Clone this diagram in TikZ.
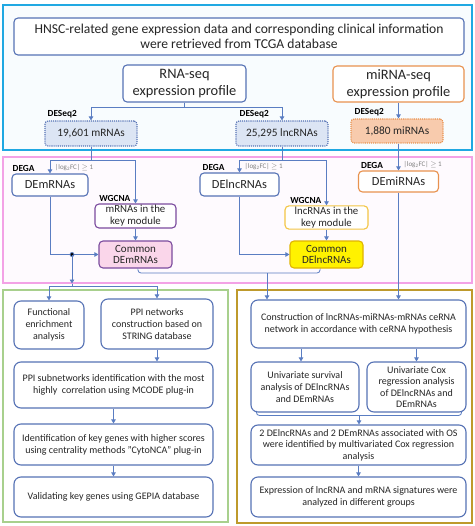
\documentclass[tikz,border=0pt]{standalone}
\usepackage{fontspec}
\setmainfont{Carlito}
\usetikzlibrary{arrows.meta,calc}
\definecolor{cblue}{HTML}{5672B5}
\definecolor{cline}{HTML}{5A7DC2}
\definecolor{corange}{HTML}{E8924F}
\definecolor{cpurple}{HTML}{7B4B9E}
\definecolor{cyel}{HTML}{F3C544}
\definecolor{cyelfill}{HTML}{FFF200}
\definecolor{cyeldark}{HTML}{E0B400}
\definecolor{cpinkfill}{HTML}{FAD6EA}
\definecolor{cbluefill}{HTML}{DCE5F4}
\definecolor{corangefill}{HTML}{F8CBAD}
\definecolor{pcyan}{HTML}{1FA8E2}
\definecolor{ppink}{HTML}{F3A2E6}
\definecolor{pgreen}{HTML}{A8D08D}
\definecolor{pbrown}{HTML}{BE9A2C}
\definecolor{txt}{HTML}{262626}
\definecolor{lgray}{HTML}{808080}
\begin{document}
\begin{tikzpicture}[x=1pt,y=-1pt,
  panel/.style={line width=2pt},
  box/.style={draw=cblue, line width=1.1pt, rounded corners=4pt, fill=white, align=center, inner sep=1pt, text=txt},
  gbox/.style={box, rounded corners=7pt, font=\fontsize{10}{12.2}\selectfont},
  cnt/.style={box, densely dotted, rounded corners=3pt, font=\fontsize{11.3}{12}\selectfont},
  de/.style={box, font=\fontsize{12.4}{14}\selectfont},
  km/.style={box, draw=cpurple, font=\fontsize{10.8}{12}\selectfont},
  bold/.style={font=\bfseries\fontsize{9.3}{10}\selectfont, inner sep=0pt, text=black},
  logl/.style={font=\fontsize{7}{7.5}\selectfont, inner sep=0pt, text=lgray},
  arr/.style={draw=cline, line width=0.8pt, -{Triangle[width=4.5pt,length=4pt]}},
  cline/.style={draw=cline, line width=0.8pt}]
\useasboundingbox (0,0) rectangle (474,526);
% panels
\draw[panel, draw=pcyan, fill=pcyan!3] (3,5) rectangle (472,150);
\draw[panel, draw=ppink, fill=ppink!5] (3,157) rectangle (472,283);
\draw[panel, draw=pgreen, fill=white] (3,290) rectangle (228,522);
\draw[panel, draw=pbrown, fill=white] (237,290) rectangle (472,523);
% top
\node[box, minimum width=450, minimum height=37, font=\fontsize{13.6}{15}\selectfont] (title) at (239,36.5)
  {HNSC-related gene expression data and corresponding clinical information\\were retrieved from TCGA database};
\node[box, minimum width=123, minimum height=37, font=\fontsize{14.4}{16.5}\selectfont] (rnaseq) at (184.5,83.5) {RNA-seq\\expression profile};
\node[box, draw=corange, minimum width=131, minimum height=36, font=\fontsize{14.4}{16.5}\selectfont] (mirnaseq) at (398.5,84) {miRNA-seq\\expression profile};
\node[cnt, fill=cbluefill, minimum width=92, minimum height=25] (mrna) at (91,133.5) {19,601 mRNAs};
\node[cnt, fill=cbluefill, minimum width=92, minimum height=25] (lnc) at (282,133.5) {25,295 lncRNAs};
\node[cnt, draw=corange, fill=corangefill, minimum width=92, minimum height=24] (mir) at (397,131) {1,880 miRNAs};
\node[bold, anchor=south west] (ds1) at ($(mrna.north west)+(3,-2)$) {DESeq2};
\node[bold, anchor=south west] (ds2) at ($(lnc.north west)+(4,-2)$) {DESeq2};
\node[bold, anchor=south west] (ds3) at ($(mir.north west)+(4,-2)$) {DESeq2};
% middle
\node[de, minimum width=76, minimum height=22] (dem) at (50,185) {DEmRNAs};
\node[de, minimum width=79, minimum height=23] (del) at (239.5,184.5) {DElncRNAs};
\node[de, draw=corange, minimum width=80, minimum height=21] (demi) at (398.5,181.5) {DEmiRNAs};
\node[km, minimum width=81, minimum height=24] (kmm) at (135.5,216) {mRNAs in the\\key module};
\node[km, draw=cyel, minimum width=83, minimum height=23] (kml) at (326.5,217.5) {lncRNAs in the\\key module};
\node[km, fill=cpinkfill, minimum width=73, minimum height=27, font=\fontsize{11}{11.8}\selectfont] (cmm) at (135.5,254.5) {Common\\DEmRNAs};
\node[km, draw=cyeldark, fill=cyelfill, minimum width=73, minimum height=27, font=\fontsize{11}{11.8}\selectfont] (cml) at (326.5,254.5) {Common\\DElncRNAs};
\node[bold, anchor=south west] (dg1) at ($(dem.north west)+(1,-2)$) {DEGA};
\node[bold, anchor=south west] (dg2) at ($(del.north west)+(3,-2)$) {DEGA};
\node[bold, anchor=south west] (dg3) at ($(demi.north west)+(3,-2)$) {DEGA};
\node[logl, anchor=south west] (lg1) at ($(dem.north)+(5,-2.5)$) {|log\textsubscript{2}FC| \(\geq\) 1};
\node[logl, anchor=south west] (lg2) at ($(del.north)+(5,-2.5)$) {|log\textsubscript{2}FC| \(\geq\) 1};
\node[logl, anchor=south west] (lg3) at ($(demi.north)+(5,-2.5)$) {|log\textsubscript{2}FC| \(\geq\) 1};
\node[bold, anchor=south east] (wg1) at ($(kmm.north)+(-5,-2)$) {WGCNA};
\node[bold, anchor=south east] (wg2) at ($(kml.north)+(-5,-2)$) {WGCNA};
% green panel
\node[gbox, minimum width=70, minimum height=48] (func) at (49,325) {Functional\\enrichment\\analysis};
\node[gbox, minimum width=112, minimum height=50] (ppi) at (157,324) {PPI networks\\construction based on\\STRING database};
\node[gbox, minimum width=199, minimum height=46] (sub) at (113.5,385) {PPI subnetworks identification with the most\\highly~ correlation using MCODE plug-in};
\node[gbox, minimum width=199, minimum height=41] (keyg) at (113.5,444.5) {Identification of key genes with higher scores\\using centrality methods "CytoNCA" plug-in};
\node[gbox, minimum width=199, minimum height=40] (valid) at (113.5,497) {Validating key genes using GEPIA database};
% brown panel
\node[gbox, minimum width=215, minimum height=48] (cons) at (358.5,324) {Construction of lncRNAs-miRNAs-mRNAs ceRNA\\network in accordance with ceRNA hypothesis};
\node[gbox, minimum width=108, minimum height=50] (surv) at (305,387) {Univariate survival\\analysis of DElncRNAs\\and DEmRNAs};
\node[gbox, minimum width=99, minimum height=50, font=\fontsize{10}{11.5}\selectfont] (cox) at (416.5,387) {Univariate Cox\\regression analysis\\of DElncRNAs and\\DEmRNAs};
\node[gbox, minimum width=215, minimum height=40, font=\fontsize{10}{11.5}\selectfont] (two) at (358.5,445) {2 DElncRNAs and 2 DEmRNAs associated with OS\\were identified by multivariated Cox regression\\analysis};
\node[gbox, minimum width=215, minimum height=40] (expr) at (358.5,497) {Expression of lncRNA and mRNA signatures were\\analyzed in different groups};
% connectors top
\draw[arr] (rnaseq.south) -- ++(0,5) -| (mrna.north);
\draw[arr] (rnaseq.south) -- ++(0,5) -| (lnc.north);
\draw[arr] (mirnaseq.south) -- (mirnaseq.south |- mir.north);
% middle connectors
\draw[arr] (mrna.south) -- ++(0,14) -| (dem.north);
\draw[arr] (mrna.south) -- ++(0,14) -| (kmm.north);
\draw[arr] (lnc.south) -- ++(0,14) -| (del.north);
\draw[arr] (lnc.south) -- ++(0,14) -| (kml.north);
\draw[arr] (mir.south -| demi.north) -- (demi.north);
\draw[arr] (kmm.south) -- (cmm.north);
\draw[arr] (kml.south) -- (cml.north);
\draw[arr] (dem.south) |- (cmm.west);
\draw[arr] (del.south) |- (cml.west);
\coordinate (junc) at (72,254.5);
\coordinate (jend) at (72,283.5);
\coordinate (bar) at (72,286);
\fill[cline] (junc) circle (2);
\draw[arr] (junc) -- (jend);
\draw[cline] (jend) -- (bar);
\draw[arr] (bar) -| (func.north);
\draw[arr] (bar) -| (ppi.north);
\coordinate (brk1) at (267,273);
\draw[cline, rounded corners=3pt] ($(cmm.south)+(2.5,2)$) |- (brk1) -| ($(cml.south)+(-6.5,2)$);
\draw[arr] (brk1) -- (brk1 |- cons.north);
\draw[arr] (demi.south) -- (demi.south |- cons.north);
% green connectors
\draw[arr] (ppi.south) -- (ppi.south |- sub.north);
\draw[arr] (sub.south) -- (keyg.north);
\draw[arr] (keyg.south) -- (valid.north);
% brown connectors
\draw[arr] ($(surv.north |- cons.south)+(-4,0)$) -- ($(surv.north)+(-4,0)$);
\draw[arr] (cox.north |- cons.south) -- (cox.north);
\coordinate (brk2) at (359,415.5);
\draw[cline, rounded corners=3pt] ($(surv.south west)+(6,0)$) |- (brk2) -| ($(cox.south east)+(-5,0)$);
\draw[arr] (brk2) -- (brk2 |- two.north);
\draw[arr] (two.south) -- (expr.north);
\end{tikzpicture}
\end{document}
